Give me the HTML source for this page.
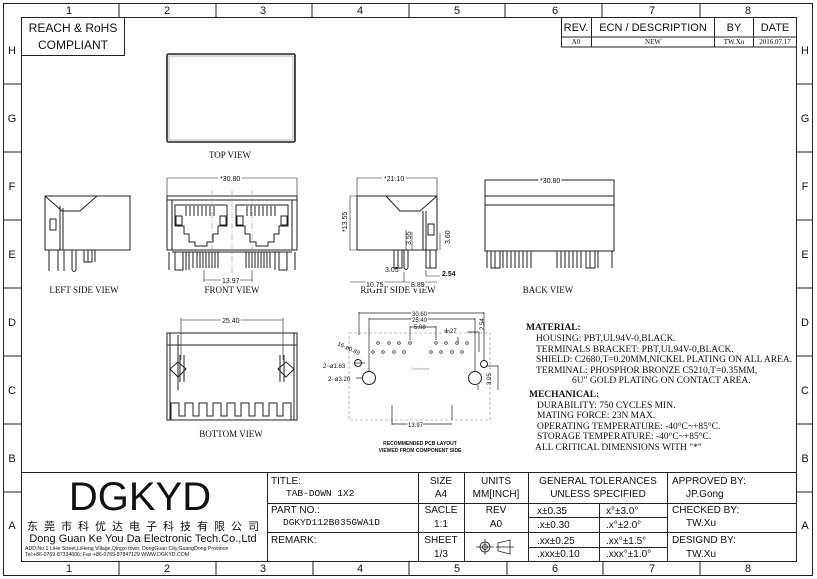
<!DOCTYPE html>
<html><head><meta charset="utf-8"><style>
html,body{margin:0;padding:0;background:#fff;}
svg{display:block}
.s{font-family:"Liberation Sans",sans-serif}
.r{font-family:"Liberation Serif",serif}
</style></head><body>
<svg width="817" height="579" viewBox="0 0 817 579" xmlns="http://www.w3.org/2000/svg">
<g fill="none" stroke="#222" stroke-width="1">
<rect x="3.5" y="3.5" width="809" height="572"/>
<rect x="21.5" y="17.5" width="775" height="544"/>
<path d="M119 4V17M216 4V17M312 4V17M409 4V17M505 4V17M602 4V17M700 4V17M119 562V575M216 562V575M313 562V575M409 562V575M507 562V575M603 562V575M700 562V575"/>
<path d="M4 84H21M4 152H21M4 220H21M4 288H21M4 356H21M4 424H21M4 492H21M797 84H812M797 152H812M797 220H812M797 288H812M797 356H812M797 424H812M797 492H812"/>
<rect x="21.5" y="17.5" width="103" height="38"/>
<path d="M561.5 17V47H796M561 37H796M591.5 17V47M714.5 17V47M753.5 17V47"/>
<path d="M21 472.5H797M267.5 472V562M267 503.5H418M267 532.5H418M418.5 472V562M464.5 472V562M528.5 472V562M667.5 472V562M418 503.5H797M418 532.5H797M528 517.5H667M528 547.5H667M599.5 503V562"/>
</g>
<g class="s" fill="#111" font-size="11" text-anchor="middle">
<text x="69" y="14">1</text><text x="167" y="14">2</text><text x="263" y="14">3</text><text x="360" y="14">4</text><text x="457" y="14">5</text><text x="555" y="14">6</text><text x="652" y="14">7</text><text x="748" y="14">8</text>
<text x="69" y="572">1</text><text x="167" y="572">2</text><text x="263" y="572">3</text><text x="360" y="572">4</text><text x="457" y="572">5</text><text x="555" y="572">6</text><text x="652" y="572">7</text><text x="748" y="572">8</text>
<text x="12" y="54">H</text><text x="12" y="122">G</text><text x="12" y="190">F</text><text x="12" y="258">E</text><text x="12" y="326">D</text><text x="12" y="394">C</text><text x="12" y="462">B</text><text x="12" y="529">A</text>
<text x="805" y="54">H</text><text x="805" y="122">G</text><text x="805" y="190">F</text><text x="805" y="258">E</text><text x="805" y="326">D</text><text x="805" y="394">C</text><text x="805" y="462">B</text><text x="805" y="529">A</text>
<text x="73" y="32" font-size="12">REACH &amp; RoHS</text>
<text x="73" y="49" font-size="12">COMPLIANT</text>
<text x="576" y="31" font-size="11">REV.</text>
<text x="653" y="31" font-size="11">ECN / DESCRIPTION</text>
<text x="734" y="31" font-size="11">BY</text>
<text x="775" y="31" font-size="11">DATE</text>
<g class="r" font-size="7"><text x="576" y="44">A0</text><text x="653" y="44">NEW</text><text x="734" y="44">TW.Xu</text><text x="775" y="44">2016.07.17</text></g>
</g>
<g class="s" fill="#111">
<text x="140" y="510" font-size="40" text-anchor="middle">DGKYD</text>
<text x="146" y="530" font-size="11" text-anchor="middle" font-family="'Liberation Sans','Noto Sans CJK SC',sans-serif" letter-spacing="6">东莞市科优达电子科技有限公司</text>
<text x="143" y="542" font-size="11" text-anchor="middle">Dong Guan Ke You Da Electronic Tech.Co.,Ltd</text>
<text x="25" y="550" font-size="5.2">ADD:No.1 LiHe Street,LiHeng Village,Qingxi town, DongGuan City,GuangDong Province</text>
<text x="25" y="556" font-size="5.2">Tel:+86-0769-87334606; Fax:+86-0769-87847129  WWW.DGKYD.COM</text>
<text x="271" y="484" font-size="10">TITLE:</text>
<text x="286" y="496" font-size="9.5" font-family="'Liberation Mono',monospace">TAB-DOWN 1X2</text>
<text x="271" y="513" font-size="10">PART NO.:</text>
<text x="283" y="525" font-size="9.5" font-family="'Liberation Mono',monospace">DGKYD112B035GWA1D</text>
<text x="271" y="543" font-size="10">REMARK:</text>
<g font-size="10" text-anchor="middle">
<text x="441" y="484">SIZE</text><text x="441" y="497">A4</text>
<text x="496" y="484">UNITS</text><text x="496" y="497">MM[INCH]</text>
<text x="441" y="513">SACLE</text><text x="441" y="527">1:1</text>
<text x="496" y="513">REV</text><text x="496" y="527">A0</text>
<text x="441" y="543">SHEET</text><text x="441" y="557">1/3</text>
<text x="598" y="484">GENERAL TOLERANCES</text><text x="598" y="497">UNLESS SPECIFIED</text>
</g>
<g font-size="10">
<text x="537" y="514">x±0.35</text><text x="537" y="528">.x±0.30</text><text x="537" y="544">.xx±0.25</text><text x="537" y="557">.xxx±0.10</text>
<text x="606" y="514">x°±3.0°</text><text x="606" y="528">.x°±2.0°</text><text x="606" y="544">.xx°±1.5°</text><text x="606" y="557">.xxx°±1.0°</text>
<text x="672" y="484">APPROVED BY:</text><text x="686" y="497">JP.Gong</text>
<text x="672" y="513">CHECKED BY:</text><text x="686" y="526">TW.Xu</text>
<text x="672" y="543">DESIGND BY:</text><text x="686" y="557">TW.Xu</text>
</g>
</g>
<g fill="none" stroke="#222" stroke-width="0.8">
<circle cx="485" cy="547" r="5"/><circle cx="485" cy="547" r="2.5"/><path d="M476 547H494M485 539V555M498 543L510 540V554L498 551ZM496 547H514"/>
</g>

<g fill="none" stroke="#222" stroke-width="1">
<rect x="167" y="54" width="128" height="88" rx="1.5" stroke-width="1.6"/>
<rect x="169" y="56" width="124" height="84" stroke="#888" stroke-width="0.6"/>
<path d="M45 196H130V250H45Z M45 196L62 211H80L97 196M60 206V250M63 208V250"/>
<rect x="50" y="219" width="6" height="11"/>
<path d="M49 250V271M58 250V271M64 250V271M72 250V270M76 250V270M84 250V262H92V250M88 250V262M95 250V262M72 270Q74 273 76 270"/>
<rect x="167" y="196" width="130" height="54"/>
<path d="M167 200H297M172 200V250M292 200V250"/>
<path d="M175 205H227V226H218V234H213V242H207V246H195V242H189V234H184V226H175Z"/>
<path d="M236 205H288V226H279V234H274V242H268V246H256V242H250V234H245V226H236Z"/>
<path d="M186 206V216M190 206V216M194 206V216M198 206V216M202 206V216M206 206V216M210 206V216M214 206V216M247 206V216M251 206V216M255 206V216M259 206V216M263 206V216M267 206V216M271 206V216M275 206V216"/>
<rect x="176" y="216" width="6" height="9"/><rect x="220" y="216" width="6" height="9"/><rect x="237" y="216" width="6" height="9"/><rect x="281" y="216" width="6" height="9"/>
<path d="M172 252H292M175 252V270H183V252M186 252V270M189 252V270M193 252V268M197 252V268M200 252V268M203 252V268M206 252V268M209 252V268M212 252V268M215 252V268M218 252V268M246 252V268M249 252V268M252 252V268M255 252V268M258 252V268M261 252V268M264 252V268M267 252V268M270 252V268M275 252V270M279 252V270H287V252M169 252V270M295 252V270"/>
<path d="M232 190V280M212 190V250M252 190V250" stroke="#999" stroke-dasharray="6 2 1 2" stroke-width="0.6"/>
<path d="M167 178V196M297 178V196M167 178H297M204 270V282M252 270V282M204 280H252" stroke-width="0.6"/>
<path d="M357 196H437V250H357Z M437 196L420 211H400L386 196M423 211V250M426 211V250"/>
<rect x="428" y="224" width="6" height="11"/>
<path d="M394 250V268H402V250M398 250V268M404 250V268M408 250V268M404 268Q406 271 408 268M426 250V268H436V250M430 250V268"/>
<path d="M357 178V196M437 178V196M357 178H437M350 196H357M350 250H357M350 196V250M406 230V250M412 232V250M440 233V250M404 272V282M350 282H437M426 270V276H440" stroke-width="0.6"/>
<rect x="485" y="196" width="129" height="55"/>
<path d="M485 196V180H614V196M485 205H614"/>
<path d="M487 251V268M491 251V268H500V251M495 251V268M503 251V268M507 251V268M511 251V268M515 251V268M519 251V268M523 251V268M527 251V268M531 251V268M557 251V268M561 251V268M565 251V268M569 251V268M573 251V268M577 251V268M581 251V268M586 251V268H595V251M590 251V268M598 251V268M612 251V268"/>
<rect x="167" y="333" width="130" height="87"/>
<path d="M167 345H297M170 333V420M294 333V420M178 335V390M294 335V390M180 355V382M184 355V382M280 355V382M284 355V382"/>
<path d="M178 362L186 369L178 377L170 369Z M286 362L294 369L286 377L278 369Z"/>
<path d="M171 420V403H179V416H185V403H193V416H199V403H207V416H213V403H221V416H227V403H235V416H241V403H249V416H255V403H263V416H269V403H277V416H283V403H291V420"/>
<path d="M181 318V360M283 318V360M181 320H283" stroke-width="0.6"/>
<rect x="349" y="333" width="141" height="87" stroke="#888" stroke-dasharray="3 2" stroke-width="0.6"/>
<circle cx="369" cy="378" r="6.5"/><circle cx="475" cy="378" r="6.5"/>
<circle cx="358" cy="363" r="3.5"/><circle cx="484" cy="364" r="3.5"/>
<g stroke-width="0.7">
<circle cx="378" cy="343" r="1.3"/><circle cx="389" cy="343" r="1.3"/><circle cx="399" cy="343" r="1.3"/><circle cx="410" cy="343" r="1.3"/><circle cx="436" cy="343" r="1.3"/><circle cx="446" cy="343" r="1.3"/><circle cx="457" cy="343" r="1.3"/><circle cx="467" cy="343" r="1.3"/>
<circle cx="373" cy="352" r="1.3"/><circle cx="383" cy="352" r="1.3"/><circle cx="394" cy="352" r="1.3"/><circle cx="404" cy="352" r="1.3"/><circle cx="431" cy="352" r="1.3"/><circle cx="441" cy="352" r="1.3"/><circle cx="452" cy="352" r="1.3"/><circle cx="462" cy="352" r="1.3"/>
<path d="M359 312V335M484 312V360M359 313H484M369 318V372M475 318V372M369 319H475M410 326V340M436 326V340M410 327H436M467 332H479V352M458 343V337M444 331H450M392 405V425M452 405V420M392 424H452M478 385V390M486 366H498V390M365 363H354M356 378H362"/>
</g>
</g>
<g fill="#111">
<text x="230" y="158" class="r" font-size="9" text-anchor="middle">TOP VIEW</text>
<text x="84" y="293" class="r" font-size="9" text-anchor="middle">LEFT SIDE VIEW</text>
<text x="232" y="293" class="r" font-size="9" text-anchor="middle">FRONT VIEW</text>
<text x="398" y="293" class="r" font-size="9" text-anchor="middle">RIGHT SIDE VIEW</text>
<text x="548" y="293" class="r" font-size="9" text-anchor="middle">BACK VIEW</text>
<text x="231" y="437" class="r" font-size="9" text-anchor="middle">BOTTOM VIEW</text>
<g class="s" font-size="7">
<text x="220" y="181" stroke="#fff" stroke-width="3" paint-order="stroke">*30.80</text>
<text x="222" y="283" stroke="#fff" stroke-width="3" paint-order="stroke">13.97</text>
<text x="384" y="181" stroke="#fff" stroke-width="3" paint-order="stroke">*21.10</text>
<text x="366" y="287" stroke="#fff" stroke-width="3" paint-order="stroke">10.75</text>
<text x="411" y="287" stroke="#fff" stroke-width="3" paint-order="stroke">8.89</text>
<text x="385" y="272">3.05</text>
<text x="442" y="276" font-weight="bold">2.54</text>
<text x="540" y="183" stroke="#fff" stroke-width="3" paint-order="stroke">*30.80</text>
<text x="222" y="323" stroke="#fff" stroke-width="3" paint-order="stroke">25.40</text>
<text transform="translate(347 232) rotate(-90)">*13.55</text>
<text transform="translate(411 245) rotate(-90)">3.55</text>
<text transform="translate(450 244) rotate(-90)">3.60</text>
<g font-size="6">
<text x="412" y="316" stroke="#fff" stroke-width="2" paint-order="stroke">30.60</text>
<text x="412" y="322" stroke="#fff" stroke-width="2" paint-order="stroke">25.40</text>
<text x="414" y="329">5.08</text>
<text x="445" y="333">1.27</text>
<text transform="translate(484 330) rotate(-90)">2.54</text>
<text transform="translate(491 385) rotate(-90)">3.05</text>
<text x="337" y="345" transform="rotate(25 337 345)">16-ø0.89</text>
<text x="323" y="368">2−ø1.63</text>
<text x="328" y="381">2−ø3.20</text>
<text x="408" y="427" stroke="#fff" stroke-width="2" paint-order="stroke">13.97</text>
<text x="411" y="370" fill="#999" font-size="4">Centerline</text>
<text x="420" y="445" text-anchor="middle" font-size="5" font-weight="bold">RECOMMENDED PCB LAYOUT</text>
<text x="420" y="452" text-anchor="middle" font-size="5" font-weight="bold">VIEWED FROM COMPONENT SIDE</text>
</g>
</g>
<g class="r" font-size="9.5">
<text x="526" y="330" font-weight="bold">MATERIAL:</text>
<text x="536" y="341">HOUSING: PBT,UL94V-0,BLACK.</text>
<text x="536" y="352">TERMINALS BRACKET: PBT,UL94V-0,BLACK.</text>
<text x="536" y="362">SHIELD: C2680,T=0.20MM,NICKEL PLATING ON ALL AREA.</text>
<text x="536" y="373">TERMINAL: PHOSPHOR BRONZE C5210,T=0.35MM,</text>
<text x="572" y="383">6U" GOLD PLATING ON CONTACT AREA.</text>
<text x="529" y="397" font-weight="bold">MECHANICAL:</text>
<text x="537" y="408">DURABILITY: 750 CYCLES MIN.</text>
<text x="537" y="418">MATING FORCE: 23N MAX.</text>
<text x="537" y="429">OPERATING TEMPERATURE: -40°C~+85°C.</text>
<text x="537" y="439">STORAGE TEMPERATURE: -40°C~+85°C.</text>
<text x="535" y="450">ALL CRITICAL DIMENSIONS WITH "*"</text>
</g>
</g>
</svg>
</body></html>
